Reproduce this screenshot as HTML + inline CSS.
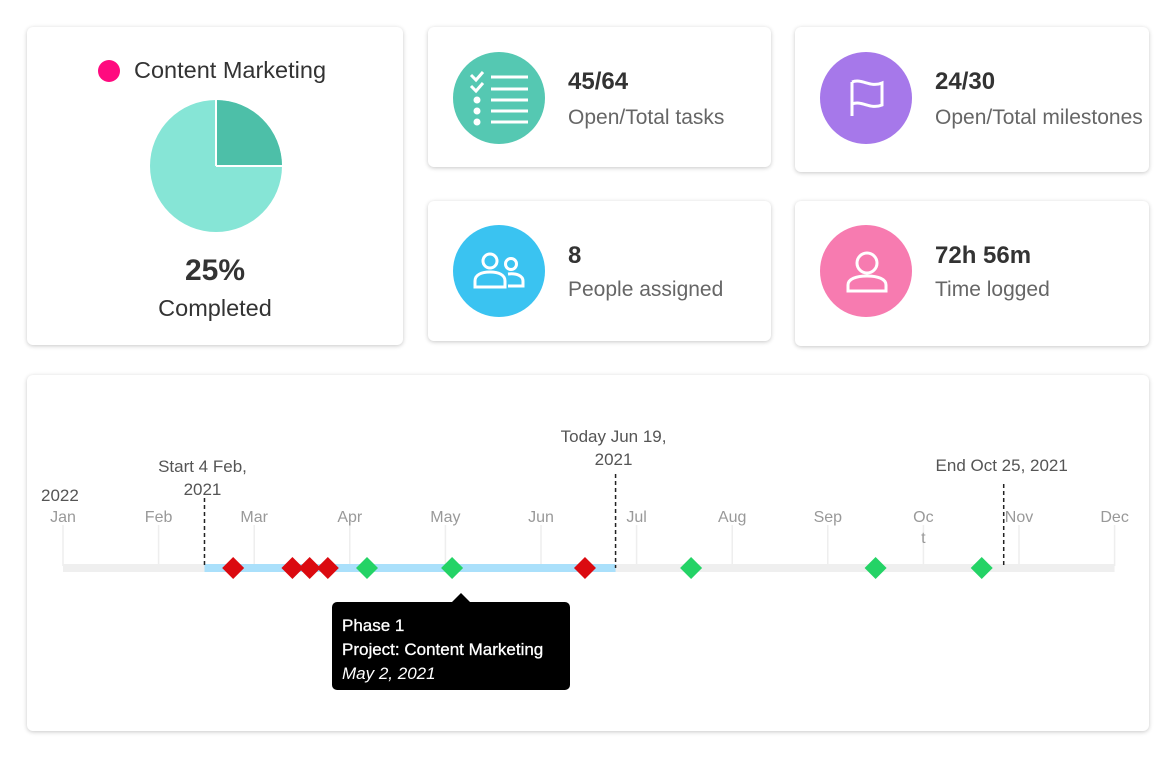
<!DOCTYPE html>
<html><head><meta charset="utf-8"><style>
body{margin:0;width:1176px;height:759px;background:#fff;font-family:"Liberation Sans",sans-serif;position:relative;overflow:hidden}
.card{position:absolute;background:#fff;border-radius:6px;box-shadow:0 1px 4px rgba(0,0,0,0.22)}
.ab{position:absolute}
.big{position:absolute;font-size:24px;font-weight:bold;color:#333}
.sub{position:absolute;font-size:21px;color:#666}
</style></head><body>
<div class="card" style="left:27px;top:27px;width:376px;height:318px">
  <div class="ab" style="left:71px;top:33px;width:22px;height:22px;border-radius:50%;background:#ff0a7f"></div>
  <div class="ab" style="left:107px;top:30px;font-size:23.5px;color:#333">Content Marketing</div>
  <svg class="ab" style="left:0;top:0" width="376" height="318">
    <circle cx="189" cy="139" r="66" fill="#86e5d6"/>
    <path d="M189 139 L189 73 A66 66 0 0 1 255 139 Z" fill="#4dbfa8"/>
    <line x1="189" y1="139" x2="189" y2="72" stroke="#fff" stroke-width="2"/>
    <line x1="189" y1="139" x2="256" y2="139" stroke="#fff" stroke-width="2"/>
  </svg>
  <div class="ab" style="left:0;width:376px;text-align:center;top:227px;font-size:30px;font-weight:bold;color:#333">25%</div>
  <div class="ab" style="left:0;width:376px;text-align:center;top:268px;font-size:23.5px;color:#333">Completed</div>
</div>

<div class="card" style="left:428px;top:27px;width:343px;height:140px">
  <svg class="ab" style="left:25px;top:25px" width="92" height="92">
    <circle cx="46" cy="46" r="46" fill="#55c8b2"/>
    <g stroke="#fff" stroke-width="3" fill="none"><polyline points="18,23 23,28 30,20"/><polyline points="18,34 23,39 30,31"/>
    <line x1="38" y1="25" x2="75" y2="25"/><line x1="38" y1="37" x2="75" y2="37"/><line x1="38" y1="48" x2="75" y2="48"/><line x1="38" y1="59" x2="75" y2="59"/><line x1="38" y1="70" x2="75" y2="70"/></g>
    <g fill="#fff"><circle cx="24" cy="48" r="3.5"/><circle cx="24" cy="59" r="3.5"/><circle cx="24" cy="70" r="3.5"/></g>
  </svg>
  <div class="big" style="left:140px;top:41px">45/64</div>
  <div class="sub" style="left:140px;top:79px">Open/Total tasks</div>
</div>

<div class="card" style="left:795px;top:27px;width:354px;height:145px">
  <svg class="ab" style="left:25px;top:25px" width="92" height="92">
    <circle cx="46" cy="46" r="46" fill="#a678ea"/>
    <g stroke="#fff" stroke-width="3" fill="none"><line x1="32" y1="30" x2="32" y2="64"/><path d="M32 30 C42 26 50 36 62 31 L62 53 C50 58 42 48 32 52"/></g>
  </svg>
  <div class="big" style="left:140px;top:41px">24/30</div>
  <div class="sub" style="left:140px;top:79px">Open/Total milestones</div>
</div>

<div class="card" style="left:428px;top:201px;width:343px;height:140px">
  <svg class="ab" style="left:25px;top:24px" width="92" height="92">
    <circle cx="46" cy="46" r="46" fill="#3ac3f1"/>
    <g stroke="#fff" stroke-width="3" fill="none"><circle cx="37" cy="36" r="7"/><path d="M22 62 L22 56 C22 50 28 47 37 47 C46 47 52 50 52 56 L52 62 Z"/><circle cx="58" cy="39" r="5.5"/><path d="M55 49 C64 48 70 51 70 56 L70 61 L55 61"/></g>
  </svg>
  <div class="big" style="left:140px;top:41px">8</div>
  <div class="sub" style="left:140px;top:77px">People assigned</div>
</div>

<div class="card" style="left:795px;top:201px;width:354px;height:145px">
  <svg class="ab" style="left:25px;top:24px" width="92" height="92">
    <circle cx="46" cy="46" r="46" fill="#f77bb0"/>
    <g stroke="#fff" stroke-width="3" fill="none"><circle cx="47" cy="38" r="10"/><path d="M28 66 L28 60 C28 54 36 51 47 51 C58 51 66 54 66 60 L66 66 Z"/></g>
  </svg>
  <div class="big" style="left:140px;top:41px">72h 56m</div>
  <div class="sub" style="left:140px;top:77px">Time logged</div>
</div>

<div class="card" style="left:27px;top:375px;width:1122px;height:356px"></div>
<svg class="ab" id="tl" style="left:0;top:0" width="1176" height="759" font-family="Liberation Sans, sans-serif"></svg>

<script>
const months=["Jan","Feb","Mar","Apr","May","Jun","Jul","Aug","Sep","Oct","Nov","Dec"];
const milestoneMonths=[1.78,2.40,2.58,2.77,3.18,4.07,5.46,6.57,8.50,9.61];
const milestoneStatus=["late","late","late","late","done","done","late","done","done","done"];
const startMonth=1.48, todayMonth=5.78, endMonth=9.84;
const X0=63, STEP=95.6, Y=568;
const x=m=>X0+m*STEP;
const svg=document.getElementById('tl');
const NS="http://www.w3.org/2000/svg";
function mk(tag,attrs,txt){const e=document.createElementNS(NS,tag);for(const k in attrs)e.setAttribute(k,attrs[k]);if(txt!=null)e.textContent=txt;svg.appendChild(e);return e;}
let t=mk('text',{x:41,y:501,'font-size':17,fill:'#555'},'2022');


months.forEach((m,i)=>{
  const l=mk('line',{x1:x(i),x2:x(i),y1:525,y2:566,stroke:'#eee','stroke-width':1.5});
  
  
  if(m==="Oct"){
    const a=mk('text',{x:x(i),y:522,'text-anchor':'middle','font-size':16,fill:'#999'},'Oc');
    
    
    const b=mk('text',{x:x(i),y:543,'text-anchor':'middle','font-size':16,fill:'#999'},'t');
    
    
  } else {
    const a=mk('text',{x:x(i),y:522,'text-anchor':'middle','font-size':16,fill:'#999'},m);
    
    
  }
});
let tr=mk('rect',{x:x(0),y:Y-4,width:x(11)-x(0),height:8,fill:'#efefef'});


let pr=mk('rect',{x:x(startMonth),y:Y-4,width:x(todayMonth)-x(startMonth),height:8,fill:'#aae0fb'});


[[startMonth,498,["Start 4 Feb,","2021"],466,'start-marker'],[todayMonth,474,["Today Jun 19,","2021"],436,'today-marker'],[endMonth,484,["End Oct 25, 2021"],465,'end-marker']].forEach(([m,y1,lines,ty,n])=>{
  const l=mk('line',{x1:x(m),x2:x(m),y1:y1,y2:Y,stroke:'#222','stroke-width':1.5,'stroke-dasharray':'4,3'});
  
  
  lines.forEach((s,j)=>{
    const tt=mk('text',{x:x(m)-2,y:ty+6+j*23,'text-anchor':'middle','font-size':17,fill:'#555'},s);
    
    
  });
});
milestoneMonths.forEach((m,i)=>{
  const cx=x(m),s=11;
  const d=mk('polygon',{points:`${cx},${Y-s} ${cx+s},${Y} ${cx},${Y+s} ${cx-s},${Y}`,fill:milestoneStatus[i]==="late"?'#db0a10':'#24d366'});
  
  
});
</script>

<div class="ab" style="left:332px;top:602px;width:238px;height:88px;background:#000;border-radius:5px;color:#fff;font-size:17px">
  <div class="ab" style="left:120px;top:-9px;width:0;height:0;border-left:9px solid transparent;border-right:9px solid transparent;border-bottom:9px solid #000"></div>
  <div class="ab" style="left:10px;top:14px;-webkit-text-stroke:0.3px #fff">Phase 1</div>
  <div class="ab" style="left:10px;top:38px;-webkit-text-stroke:0.3px #fff">Project: Content Marketing</div>
  <div class="ab" style="left:10px;top:62px;font-style:italic">May 2, 2021</div>
</div>
</body></html>
